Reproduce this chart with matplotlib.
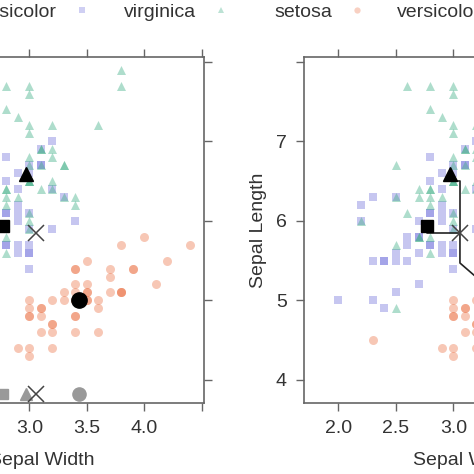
import numpy as np
import matplotlib.pyplot as plt
from matplotlib.lines import Line2D

plt.rcParams['font.family'] = ['Liberation Sans', 'DejaVu Sans']

# iris: sepal length / sepal width per species
setosa_sl = [5.1, 4.9, 4.7, 4.6, 5.0, 5.4, 4.6, 5.0, 4.4, 4.9, 5.4, 4.8, 4.8, 4.3, 5.8, 5.7, 5.4, 5.1, 5.7, 5.1,
             5.4, 5.1, 4.6, 5.1, 4.8, 5.0, 5.0, 5.2, 5.2, 4.7, 4.8, 5.4, 5.2, 5.5, 4.9, 5.0, 5.5, 4.9, 4.4, 5.1,
             5.0, 4.5, 4.4, 5.0, 5.1, 4.8, 5.1, 4.6, 5.3, 5.0]
setosa_sw = [3.5, 3.0, 3.2, 3.1, 3.6, 3.9, 3.4, 3.4, 2.9, 3.1, 3.7, 3.4, 3.0, 3.0, 4.0, 4.4, 3.9, 3.5, 3.8, 3.8,
             3.4, 3.7, 3.6, 3.3, 3.4, 3.0, 3.4, 3.5, 3.4, 3.2, 3.1, 3.4, 4.1, 4.2, 3.1, 3.2, 3.5, 3.6, 3.0, 3.4,
             3.5, 2.3, 3.2, 3.5, 3.8, 3.0, 3.8, 3.2, 3.7, 3.3]
versicolor_sl = [7.0, 6.4, 6.9, 5.5, 6.5, 5.7, 6.3, 4.9, 6.6, 5.2, 5.0, 5.9, 6.0, 6.1, 5.6, 6.7, 5.6, 5.8, 6.2, 5.6,
                 5.9, 6.1, 6.3, 6.1, 6.4, 6.6, 6.8, 6.7, 6.0, 5.7, 5.5, 5.5, 5.8, 6.0, 5.4, 6.0, 6.7, 6.3, 5.6, 5.5,
                 5.5, 6.1, 5.8, 5.0, 5.6, 5.7, 5.7, 6.2, 5.1, 5.7]
versicolor_sw = [3.2, 3.2, 3.1, 2.3, 2.8, 2.8, 3.3, 2.4, 2.9, 2.7, 2.0, 3.0, 2.2, 2.9, 2.9, 3.1, 3.0, 2.7, 2.2, 2.5,
                 3.2, 2.8, 2.5, 2.8, 2.9, 3.0, 2.8, 3.0, 2.9, 2.6, 2.4, 2.4, 2.7, 2.7, 3.0, 3.4, 3.1, 2.3, 3.0, 2.5,
                 2.6, 3.0, 2.6, 2.3, 2.7, 3.0, 2.9, 2.9, 2.5, 2.8]
virginica_sl = [6.3, 5.8, 7.1, 6.3, 6.5, 7.6, 4.9, 7.3, 6.7, 7.2, 6.5, 6.4, 6.8, 5.7, 5.8, 6.4, 6.5, 7.7, 7.7, 6.0,
                6.9, 5.6, 7.7, 6.3, 6.7, 7.2, 6.2, 6.1, 6.4, 7.2, 7.4, 7.9, 6.4, 6.3, 6.1, 7.7, 6.3, 6.4, 6.0, 6.9,
                6.7, 6.9, 5.8, 6.8, 6.7, 6.7, 6.3, 6.5, 6.2, 5.9]
virginica_sw = [3.3, 2.7, 3.0, 2.9, 3.0, 3.0, 2.5, 2.9, 2.5, 3.6, 3.2, 2.7, 3.0, 2.5, 2.8, 3.2, 3.0, 3.8, 2.6, 2.2,
                3.2, 2.8, 2.8, 2.7, 3.3, 3.2, 2.8, 3.0, 2.8, 3.0, 2.8, 3.8, 2.8, 2.8, 2.6, 3.0, 3.4, 3.1, 3.0, 3.1,
                3.1, 3.1, 2.7, 3.2, 3.3, 3.0, 2.5, 3.0, 3.4, 3.0]

x_ticks = [2.0, 2.5, 3.0, 3.5, 4.0, 4.5]
x_labels = ['2.0', '2.5', '3.0', '3.5', '4.0', '']
y_ticks = [4, 5, 6, 7, 8]
y_labels = ['4', '5', '6', '7', '']

# species: (name, sw, sl, marker, color, point size, centroid size)
groups = [
    ('versicolor', versicolor_sw, versicolor_sl, 's', '#7777dd', 29, 9),
    ('virginica', virginica_sw, virginica_sl, '^', '#3fae86', 42, 10.5),
    ('setosa', setosa_sw, setosa_sl, 'o', '#ec7a50', 42, 11),
]
proj_y = 3.82
elbow_y = {'virginica': 6.5, 'setosa': 5.47}

fig = plt.figure(figsize=(4.74, 4.74), dpi=100)
W = 474.0
ax1 = fig.add_axes([-120 / W, 71 / W, 324 / W, 346 / W])
ax2 = fig.add_axes([304 / W, 71 / W, 324 / W, 346 / W])

all_sw = np.array(versicolor_sw + virginica_sw + setosa_sw)
all_sl = np.array(versicolor_sl + virginica_sl + setosa_sl)
gx, gy = all_sw.mean(), all_sl.mean()

for ax in (ax1, ax2):
    for name, sw, sl, mk, col, s, ms in groups:
        ax.scatter(sw, sl, marker=mk, s=s, color=col, alpha=0.42, linewidths=0, zorder=2)
    ax.set_xlim(1.70, 4.52)
    ax.set_ylim(3.71, 8.06)
    ax.set_xticks(x_ticks)
    ax.set_xticklabels(x_labels)
    ax.set_yticks(y_ticks)
    ax.set_yticklabels(y_labels)
    for sp in ax.spines.values():
        sp.set_color('#666666')
        sp.set_linewidth(1.2)
    ax.tick_params(direction='out', length=5.5, width=1, color='#666666', labelsize=14,
                   labelcolor='#333333', top=True, right=True)
    ax.tick_params(axis='x', pad=6.5)
    ax.tick_params(axis='y', pad=7)
    ax.set_xlabel('Sepal Width', fontsize=14, color='#333333')
    ax.xaxis.set_label_coords(0.5, -0.142)

ax2.set_ylabel('Sepal Length', fontsize=14, color='#333333')
ax2.yaxis.set_label_coords(-0.114, 0.5)

# left panel: centroids and their projections onto the bottom
for name, sw, sl, mk, col, s, ms in groups:
    mx, my = np.mean(sw), np.mean(sl)
    ax1.plot(mx, my, marker=mk, ms=ms, color='black', ls='', zorder=4)
    ax1.plot(mx, proj_y, marker=mk, ms=ms - 1.5, color='#999999', ls='', zorder=3)
ax1.plot(gx, gy, marker='x', ms=12, mew=1.1, color='#444444', ls='', zorder=5)
ax1.plot(gx, proj_y, marker='x', ms=12, mew=1.1, color='#444444', ls='', zorder=5)

# right panel: centroids joined to the grand mean
for name, sw, sl, mk, col, s, ms in groups:
    mx, my = np.mean(sw), np.mean(sl)
    if name == 'versicolor':
        px, py = [gx, mx, mx], [gy, gy, my]
    elif name == 'virginica':
        ey = elbow_y[name]
        px, py = [gx, gx, mx, mx], [gy, ey, ey, my]
    else:
        ey = elbow_y[name]
        px, py = [gx, gx, mx], [gy, ey, my]
    ax2.plot(px, py, color='#222222', lw=1.2, zorder=3)
    ax2.plot(mx, my, marker=mk, ms=ms, color='black', ls='', zorder=4)
ax2.plot(gx, gy, marker='x', ms=12, mew=1.1, color='#444444', ls='', zorder=5)

# key across the top: text followed by symbol
key_names = ['versicolor', 'virginica', 'setosa', 'versicolor']
key_x = [-27, 124, 274, 397]
key_style = {'versicolor': ('s', '#7777dd'), 'virginica': ('^', '#3fae86'), 'setosa': ('o', '#ec7a50')}
for name, kx in zip(key_names, key_x):
    mk, col = key_style[name]
    h = Line2D([], [], marker=mk, ls='', color=col, alpha=0.35, ms=4.5, mew=0)
    fig.legend([h], [name], loc='center left', bbox_to_anchor=(kx / W, 1 - 12 / W),
               markerfirst=False, frameon=False, fontsize=14, borderpad=0, borderaxespad=0,
               handlelength=1.0, handletextpad=0.8, labelcolor='#333333')

fig.savefig('out.png', dpi=100)
